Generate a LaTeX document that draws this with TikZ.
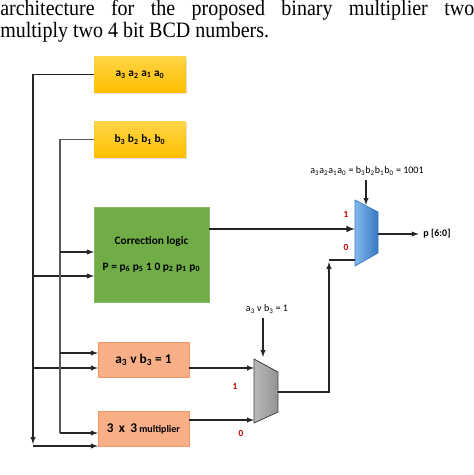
\documentclass[tikz,border=0pt]{standalone}
\usepackage{fontspec}
\setmainfont{Liberation Serif}
\newfontfamily\boxfont{Carlito}
\usetikzlibrary{arrows,positioning,calc,shadows}

\definecolor{gold}{RGB}{255,192,0}
\definecolor{goldtop}{RGB}{255,212,70}
\definecolor{leaf}{RGB}{112,173,71}
\definecolor{salmon}{RGB}{248,175,135}
\definecolor{salmonedge}{RGB}{240,150,105}
\definecolor{muxlight}{RGB}{130,185,235}
\definecolor{muxdark}{RGB}{55,120,195}
\definecolor{bitred}{RGB}{192,0,0}

\newcommand{\sbs}[1]{\textsubscript{#1}}

\tikzset{
    inreg/.style={top color=goldtop, bottom color=gold, minimum width=69pt, minimum height=27pt,
        drop shadow={shadow xshift=0.8pt, shadow yshift=-1pt, opacity=0.25},
        font=\boxfont\bfseries\fontsize{8.5}{9}\selectfont},
    corrbox/.style={fill=leaf, draw=leaf!85!white, minimum width=86pt, minimum height=71pt,
        align=center, font=\boxfont\bfseries\fontsize{8.5}{10}\selectfont},
    unit/.style={fill=salmon, draw=salmonedge, minimum width=68pt, minimum height=26.5pt,
        font=\boxfont\bfseries\fontsize{7.5}{9}\selectfont},
    bigmux/.style={left color=muxlight, right color=muxdark, draw=muxdark, line width=0.5pt},
    smallmux/.style={left color=gray!55, right color=gray!85, draw=black!75, line width=0.6pt},
    sellabel/.style={font=\boxfont\fontsize{7.5}{8}\selectfont},
    bit/.style={text=bitred, font=\boxfont\bfseries\fontsize{7}{8}\selectfont},
    wire/.style={draw=black!85, line width=0.8pt},
    captext/.style={anchor=base west, inner sep=0pt, font=\fontsize{15}{18}\selectfont}
}

\begin{document}
\begin{tikzpicture}[x=0.75pt, y=-0.75pt, >=latex]
    \useasboundingbox (0,0) rectangle (474,475);

    % text above the diagram
    \node[captext] (capa) at (0,15.5) {\scalebox{1}[1.1]{\makebox[355.5pt][s]{architecture for the proposed binary multiplier two}}};
    \node[captext] (capb) at (0,37.5) {\scalebox{1}[1.1]{multiply two 4 bit BCD numbers.}};

    % operands
    \node[inreg] (abox) at (140,74.5) {a\sbs{3} a\sbs{2} a\sbs{1} a\sbs{0}};
    \node[inreg] (bbox) at (140,139.5) {b\sbs{3} b\sbs{2} b\sbs{1} b\sbs{0}};

    % correction logic and the two small units
    \node[corrbox] (corr) at (151.5,254.5) {Correction logic\\[9pt] P = p\sbs{6} p\sbs{5} 1 0 p\sbs{2} p\sbs{1} p\sbs{0}};
    \node[unit] (orv) at (143.5,359.5) {\fontsize{10}{11}\selectfont a\sbs{3} v b\sbs{3} = 1};
    \node[unit] (mul) at (143.5,429) {{\fontsize{10}{11}\selectfont 3\, x\, 3} multiplier};

    % the two multiplexers
    \draw[bigmux] (355,200) -- (378,212) -- (378,253) -- (355,266) -- cycle;
    \draw[smallmux] (254,359) -- (278,372) -- (278,412) -- (254,423) -- cycle;
    \coordinate (bin1) at (355,229);
    \coordinate (bin0) at (355,260);
    \coordinate (bsel) at (366,205);
    \coordinate (bout) at (378,234);
    \coordinate (sin1) at (254,368);
    \coordinate (sin0) at (254,420);
    \coordinate (ssel) at (263,357);
    \coordinate (sout) at (278,392);

    \node[bit] (bone)  at (346,214) {1};
    \node[bit] (bzero) at (346,247) {0};
    \node[bit] (sone)  at (235,386) {1};
    \node[bit] (szero) at (241,433) {0};

    \node[sellabel] (bseltext) at (367,171) {a\sbs{3}a\sbs{2}a\sbs{1}a\sbs{0} = b\sbs{3}b\sbs{2}b\sbs{1}b\sbs{0} = 1001};
    \node[sellabel] (sseltext) at (267,309) {a\sbs{3} v b\sbs{3} = 1};
    \node[sellabel, font=\boxfont\bfseries\fontsize{7.5}{8}\selectfont] (pout) at (437,234) {p [6:0]};

    % bus of a
    \coordinate (abus) at (33,444);
    \draw[wire, ->] (abox.west) -| (abus);
    \foreach \y/\n in {276/corr, 368/orv, 446/mul}
        \draw[wire, ->] (abus |- 0,\y) -- (\n.west |- 0,\y);

    % bus of b
    \coordinate (bbus) at (60,433);
    \draw[wire, draw=black!65] (bbox.west) -| (bbus);
    \foreach \y/\n in {252/corr, 353/orv, 433/mul}
        \draw[wire, ->] (bbus |- 0,\y) -- (\n.west |- 0,\y);

    % into the multiplexers
    \draw[wire, ->, line width=1.2pt] (corr.east |- bin1) -- (bin1);
    \draw[wire, ->] (orv.east |- sin1) -- (sin1);
    \draw[wire, ->] (mul.east |- sin0) -- (sin0);
    \coordinate (turn) at (329,262);
    \draw[wire, ->] (sout) -| (turn);
    \draw[wire] (turn |- bin0) -- (bin0);

    % select lines and output
    \draw[wire, ->] (bseltext.south -| bsel) -- (bsel);
    \draw[wire, ->] (sseltext.south -| ssel) -- (ssel);
    \draw[wire, ->] (bout) -- (pout.west);
\end{tikzpicture}
\end{document}
